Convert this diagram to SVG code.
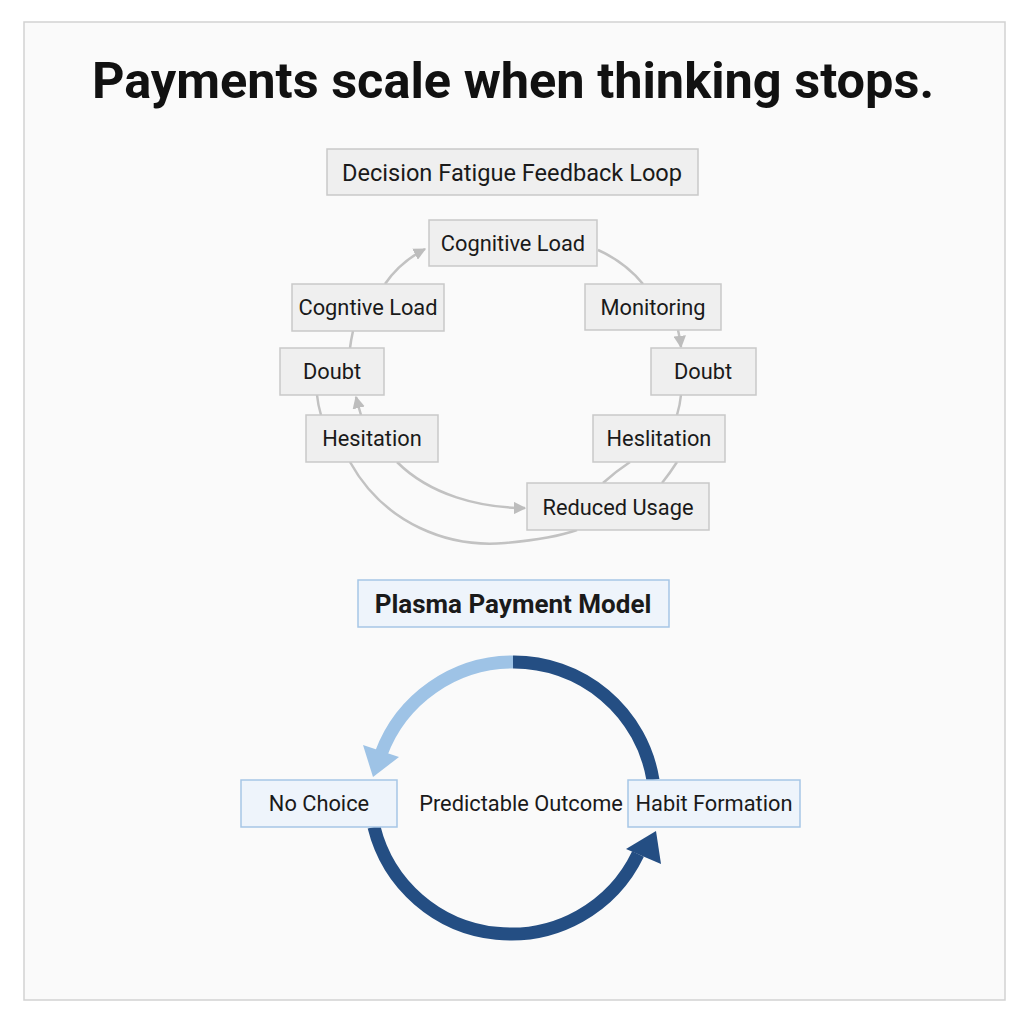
<svg xmlns="http://www.w3.org/2000/svg" width="1024" height="1024" viewBox="0 0 1024 1024">
<style>
text{font-family:Roboto,"Liberation Sans",sans-serif;fill:#1a1a1a}
.title{font-size:50.5px;font-weight:700;fill:#111}
.lbl{font-size:21.8px;text-anchor:middle}
.gbox{fill:#efefef;stroke:#c9c9c9;stroke-width:1.5}
.bbox{fill:#eef4fb;stroke:#a6c6e6;stroke-width:1.5}
.gl{fill:none;stroke:#c2c2c2;stroke-width:2.5}
</style>
<defs>
<marker id="ga" viewBox="0 0 10 10" refX="9" refY="5" markerWidth="5" markerHeight="5" orient="auto" markerUnits="strokeWidth">
<path d="M0,0 L10,5 L0,10 z" fill="#bdbdbd"/>
</marker>
</defs>
<rect x="0" y="0" width="1024" height="1024" fill="#ffffff"/>
<rect x="24" y="22" width="981" height="978" fill="#fafafa" stroke="#d2d2d2" stroke-width="1.5"/>
<text class="title" x="513" y="98" text-anchor="middle">Payments scale when thinking stops.</text>

<g id="subtitle">
<rect class="gbox" x="327" y="149" width="371" height="46"/>
<text class="lbl" x="512" y="181" style="font-size:23.6px">Decision Fatigue Feedback Loop</text>
</g>

<g id="connectors">
<path class="gl" d="M385,284 Q400,262 425,249" marker-end="url(#ga)"/>
<path class="gl" d="M598,250 Q625,262 643,284"/>
<path class="gl" d="M678,330 Q680,338 681,347" marker-end="url(#ga)"/>
<path class="gl" d="M353,331 Q351,340 350,348"/>
<path class="gl" d="M317,395 Q318,405 321,415"/>
<path class="gl" d="M361,415 Q358,405 356,397" marker-end="url(#ga)"/>
<path class="gl" d="M350,462 C385,525 450,548 505,543 C540,540 560,536 577,530"/>
<path class="gl" d="M397,462 C430,495 480,508 525,508" marker-end="url(#ga)"/>
<path class="gl" d="M681,395 Q680,405 677,415"/>
<path class="gl" d="M630,462 Q615,472 603,483"/>
<path class="gl" d="M677,462 Q670,473 662,483"/>
</g>

<g id="n-cognitive-load">
<rect class="gbox" x="429" y="220" width="168" height="46"/>
<text class="lbl" x="513" y="251">Cognitive Load</text>
</g>
<g id="n-cogntive-load">
<rect class="gbox" x="292" y="284" width="152" height="47"/>
<text class="lbl" x="368" y="315">Cogntive Load</text>
</g>
<g id="n-monitoring">
<rect class="gbox" x="585" y="284" width="136" height="46"/>
<text class="lbl" x="653" y="315">Monitoring</text>
</g>
<g id="n-doubt-left">
<rect class="gbox" x="280" y="348" width="104" height="47"/>
<text class="lbl" x="332" y="379">Doubt</text>
</g>
<g id="n-doubt-right">
<rect class="gbox" x="651" y="348" width="105" height="47"/>
<text class="lbl" x="703" y="379">Doubt</text>
</g>
<g id="n-hesitation">
<rect class="gbox" x="306" y="415" width="132" height="47"/>
<text class="lbl" x="372" y="446">Hesitation</text>
</g>
<g id="n-heslitation">
<rect class="gbox" x="593" y="415" width="132" height="47"/>
<text class="lbl" x="659" y="446">Heslitation</text>
</g>
<g id="n-reduced-usage">
<rect class="gbox" x="527" y="483" width="182" height="47"/>
<text class="lbl" x="618" y="515">Reduced Usage</text>
</g>

<g id="plasma-title">
<rect class="bbox" x="358" y="580" width="311" height="47"/>
<text class="lbl" x="513" y="613" style="font-weight:700;font-size:26px">Plasma Payment Model</text>
</g>

<g id="cycle">
<path d="M513,662 A141,141 0 0 0 381,754" fill="none" stroke="#9ec3e6" stroke-width="13"/>
<polygon points="363,745 399,757 373,777" fill="#9ec3e6"/>
<path d="M513,662 A141,141 0 0 1 653,780" fill="none" stroke="#244e83" stroke-width="13"/>
<path d="M374,827 A141,141 0 0 0 638,854" fill="none" stroke="#244e83" stroke-width="13"/>
<polygon points="626,849 661,864 656,831" fill="#244e83"/>
</g>

<g id="n-no-choice">
<rect class="bbox" x="241" y="780" width="156" height="47"/>
<text class="lbl" x="319" y="811">No Choice</text>
</g>
<g id="n-predictable">
<text class="lbl" x="521" y="811">Predictable Outcome</text>
</g>
<g id="n-habit">
<rect class="bbox" x="628" y="780" width="172" height="47"/>
<text class="lbl" x="714" y="811">Habit Formation</text>
</g>
</svg>
